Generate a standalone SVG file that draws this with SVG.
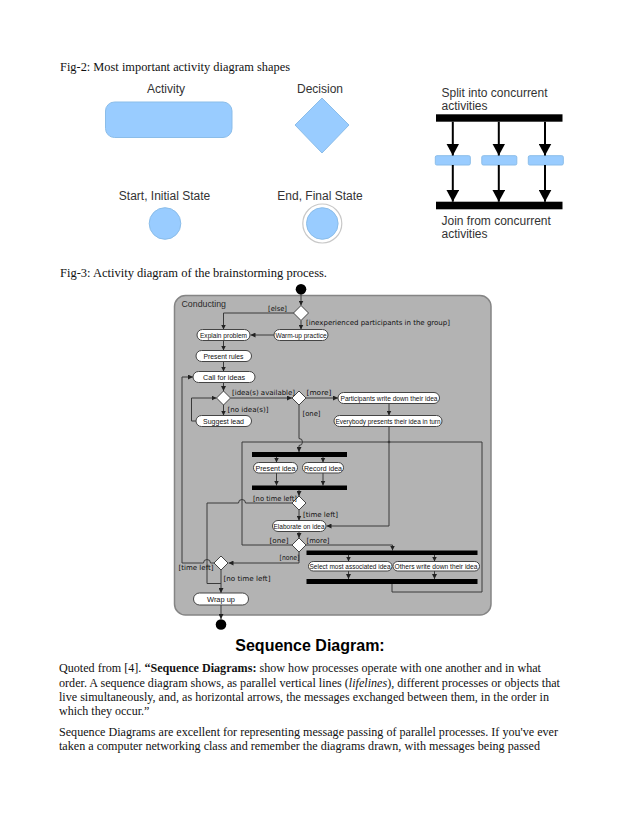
<svg xmlns="http://www.w3.org/2000/svg" width="638" height="826" viewBox="0 0 638 826">
<style>
.cap{font-family:"Liberation Serif",serif;font-size:12px;fill:#111}
.lbl{font-family:"Liberation Sans",Arial,sans-serif;font-size:12px;fill:#333}
.blue{fill:#99ccff;stroke:#8bbde9;stroke-width:1}
.big{stroke:#000;stroke-width:2;fill:none}
.bar{fill:#000}
.pill{fill:#fff;stroke:#444;stroke-width:1}
.pt{font-family:"Liberation Sans",Arial,sans-serif;font-size:7.5px;fill:#111;text-anchor:middle}
.g{font-family:"DejaVu Sans","Liberation Sans",sans-serif;font-size:7px;fill:#111}
.ln{stroke:#3a3a3a;stroke-width:1;fill:none}
.dm{fill:#fff;stroke:#444;stroke-width:1}
.para{font-family:"Liberation Serif",serif;font-size:12px;fill:#111}
</style>
<defs>
<marker id="bigA" markerUnits="userSpaceOnUse" markerWidth="12" markerHeight="13" refX="12" refY="6.5" orient="auto"><path d="M0,0 L12,6.5 L0,13 z" fill="#000"/></marker>
<marker id="a" markerUnits="userSpaceOnUse" markerWidth="5" markerHeight="5" refX="5" refY="2.5" orient="auto"><path d="M0,0 L5,2.5 L0,5 z" fill="#222"/></marker>
</defs>

<text class="cap" x="60" y="71" textLength="230" lengthAdjust="spacingAndGlyphs">Fig-2: Most important activity diagram shapes</text>

<g id="activity-shape">
<text class="lbl" x="166" y="93" text-anchor="middle">Activity</text>
<rect class="blue" x="105.5" y="102" width="126.5" height="35.5" rx="9"/>
</g>
<g id="decision-shape">
<text class="lbl" x="320" y="93" text-anchor="middle">Decision</text>
<polygon class="blue" points="322,98 349,125 322,153 295,125"/>
</g>
<g id="start-shape">
<text class="lbl" x="164.5" y="200" text-anchor="middle">Start, Initial State</text>
<circle class="blue" cx="165" cy="223.5" r="15.8"/>
</g>
<g id="end-shape">
<text class="lbl" x="320" y="200" text-anchor="middle">End, Final State</text>
<circle cx="322.3" cy="223.5" r="19.5" fill="#fff" stroke="#c8c8c8" stroke-width="1.2"/>
<circle class="blue" cx="322.3" cy="223.5" r="15.8"/>
</g>
<g id="fork-shape">
<text class="lbl" x="441.5" y="97">Split into concurrent</text>
<text class="lbl" x="441.5" y="109.5">activities</text>
<rect class="bar" x="436" y="114.3" width="126.5" height="7.4"/>
<rect class="blue" x="435.3" y="155.7" width="35" height="9.3" rx="1.5"/>
<rect class="blue" x="481.8" y="155.7" width="35" height="9.3" rx="1.5"/>
<rect class="blue" x="528.3" y="155.7" width="35" height="9.3" rx="1.5"/>
<line class="big" x1="452.8" y1="121.7" x2="452.8" y2="155.5" marker-end="url(#bigA)"/>
<line class="big" x1="498.8" y1="121.7" x2="498.8" y2="155.5" marker-end="url(#bigA)"/>
<line class="big" x1="545" y1="121.7" x2="545" y2="155.5" marker-end="url(#bigA)"/>
<line class="big" x1="452.8" y1="165" x2="452.8" y2="201.7" marker-end="url(#bigA)"/>
<line class="big" x1="498.8" y1="165" x2="498.8" y2="201.7" marker-end="url(#bigA)"/>
<line class="big" x1="545" y1="165" x2="545" y2="201.7" marker-end="url(#bigA)"/>
<rect class="bar" x="436" y="201.7" width="126.5" height="7.6"/>
<text class="lbl" x="441.5" y="224.5">Join from concurrent</text>
<text class="lbl" x="441.5" y="237.5">activities</text>
</g>

<text class="cap" x="60" y="277" textLength="267" lengthAdjust="spacingAndGlyphs">Fig-3: Activity diagram of the brainstorming process.</text>

<g id="conducting">
<rect x="174.5" y="295.5" width="316.5" height="319.5" rx="11" fill="#b3b3b3" stroke="#858585" stroke-width="1.5"/>
<text x="181.5" y="307" font-family="Liberation Sans,Arial,sans-serif" font-size="8.8" fill="#2a2a2a">Conducting</text>
</g>

<g id="connectors">
<line class="ln" x1="301" y1="294" x2="301" y2="305.5" marker-end="url(#a)"/>
<polyline class="ln" points="294,313 223.5,313 223.5,329.5" marker-end="url(#a)"/>
<line class="ln" x1="301" y1="320.5" x2="301" y2="329.5" marker-end="url(#a)"/>
<line class="ln" x1="274" y1="335" x2="250.5" y2="335" marker-end="url(#a)"/>
<line class="ln" x1="223.5" y1="340.5" x2="223.5" y2="350.5" marker-end="url(#a)"/>
<line class="ln" x1="223.5" y1="361.5" x2="223.5" y2="371.5" marker-end="url(#a)"/>
<line class="ln" x1="223.5" y1="382.5" x2="223.5" y2="391" marker-end="url(#a)"/>
<line class="ln" x1="230.5" y1="398" x2="292" y2="398" marker-end="url(#a)"/>
<line class="ln" x1="223.5" y1="405" x2="223.5" y2="415.5" marker-end="url(#a)"/>
<polyline class="ln" points="196,421 191.5,421 191.5,398 216.5,398" marker-end="url(#a)"/>
<line class="ln" x1="306" y1="398" x2="338" y2="398" marker-end="url(#a)"/>
<line class="ln" x1="389" y1="403.5" x2="389" y2="415.5" marker-end="url(#a)"/>
<path class="ln" d="M299,405 L299,438.5 A3.5,3.5 0 0 1 299,445.5 L299,452" marker-end="url(#a)"/>
<polyline class="ln" points="389,426.5 389,526 326.5,526" marker-end="url(#a)"/>
<line class="ln" x1="276.5" y1="457" x2="276.5" y2="462.5" marker-end="url(#a)"/>
<line class="ln" x1="323" y1="457" x2="323" y2="462.5" marker-end="url(#a)"/>
<line class="ln" x1="276.5" y1="473" x2="276.5" y2="485.5" marker-end="url(#a)"/>
<line class="ln" x1="323" y1="473" x2="323" y2="485.5" marker-end="url(#a)"/>
<line class="ln" x1="299" y1="490" x2="299" y2="496" marker-end="url(#a)"/>
<path class="ln" d="M292,503 L245.5,503 A3.5,3.5 0 0 0 238.5,503 L207,503 L207,583.5 L221,583.5"/>
<line class="ln" x1="299" y1="510" x2="299" y2="520.5" marker-end="url(#a)"/>
<line class="ln" x1="299" y1="531.5" x2="299" y2="538" marker-end="url(#a)"/>
<polyline class="ln" points="292,545 242,545 242,442 482,442 482,592 392,592 392,584"/>
<circle cx="389" cy="442" r="1.3" fill="#3a3a3a"/>
<polyline class="ln" points="306,545 392.5,545 392.5,550.5" marker-end="url(#a)"/>
<polyline class="ln" points="299,552 299,563 228.5,563" marker-end="url(#a)"/>
<line class="ln" x1="348.5" y1="555" x2="348.5" y2="561.5" marker-end="url(#a)"/>
<line class="ln" x1="434.5" y1="555" x2="434.5" y2="561.5" marker-end="url(#a)"/>
<line class="ln" x1="348.5" y1="571" x2="348.5" y2="579" marker-end="url(#a)"/>
<line class="ln" x1="434.5" y1="571" x2="434.5" y2="579" marker-end="url(#a)"/>
<path class="ln" d="M214,563 L210.5,563 A3.5,3.5 0 0 0 203.5,563 L182,563 L182,377 L193,377" marker-end="url(#a)"/>
<line class="ln" x1="221" y1="570" x2="221" y2="593" marker-end="url(#a)"/>
<line class="ln" x1="221" y1="605" x2="221" y2="619" marker-end="url(#a)"/>
</g>

<g id="start"><circle cx="301" cy="289.3" r="5.3" fill="#000"/></g>
<g id="d1"><polygon class="dm" points="301,305.5 308.5,313 301,320.5 293.5,313"/></g>
<g id="explain"><rect class="pill" x="197" y="329.5" width="53" height="11" rx="5.5"/><text class="pt" x="223.5" y="337.7" textLength="47" lengthAdjust="spacingAndGlyphs">Explain problem</text></g>
<g id="warmup"><rect class="pill" x="274" y="329.5" width="54" height="11" rx="5.5"/><text class="pt" x="301" y="337.7" textLength="51" lengthAdjust="spacingAndGlyphs">Warm-up practice</text></g>
<g id="rules"><rect class="pill" x="196" y="350.5" width="55.5" height="11" rx="5.5"/><text class="pt" x="223.5" y="358.7" textLength="40" lengthAdjust="spacingAndGlyphs">Present rules</text></g>
<g id="call"><rect class="pill" x="193" y="371.5" width="62" height="11" rx="5.5"/><text class="pt" x="224" y="379.7" textLength="42" lengthAdjust="spacingAndGlyphs">Call for ideas</text></g>
<g id="d2"><polygon class="dm" points="223.5,391 230.5,398 223.5,405 216.5,398"/></g>
<g id="suggest"><rect class="pill" x="196" y="415.5" width="55.5" height="11" rx="5.5"/><text class="pt" x="223.5" y="423.7" textLength="41" lengthAdjust="spacingAndGlyphs">Suggest lead</text></g>
<g id="d3"><polygon class="dm" points="299,391 306,398 299,405 292,398"/></g>
<g id="participants"><rect class="pill" x="338" y="392.5" width="101.5" height="11" rx="5.5"/><text class="pt" x="389" y="400.7" textLength="97" lengthAdjust="spacingAndGlyphs">Participants write down their idea</text></g>
<g id="everybody"><rect class="pill" x="334" y="415.5" width="108" height="11" rx="5.5"/><text class="pt" x="388" y="423.7" textLength="105" lengthAdjust="spacingAndGlyphs">Everybody presents their idea in turn</text></g>
<g id="fork1"><rect class="bar" x="252" y="452" width="95" height="5"/></g>
<g id="present"><rect class="pill" x="253.5" y="462.5" width="44" height="10.5" rx="5.2"/><text class="pt" x="275.5" y="470.5" textLength="40" lengthAdjust="spacingAndGlyphs">Present idea</text></g>
<g id="record"><rect class="pill" x="302.5" y="462.5" width="41" height="10.5" rx="5.2"/><text class="pt" x="323" y="470.5" textLength="38" lengthAdjust="spacingAndGlyphs">Record idea</text></g>
<g id="join1"><rect class="bar" x="252" y="485.5" width="95" height="4.5"/></g>
<g id="d4"><polygon class="dm" points="299,496 306,503 299,510 292,503"/></g>
<g id="elaborate"><rect class="pill" x="272.5" y="520.5" width="53.5" height="11" rx="5.5"/><text class="pt" x="299" y="528.7" textLength="51" lengthAdjust="spacingAndGlyphs">Elaborate on idea</text></g>
<g id="d6"><polygon class="dm" points="299,538 306,545 299,552 292,545"/></g>
<g id="fork2"><rect class="bar" x="306.5" y="550.5" width="171" height="4.5"/></g>
<g id="select"><rect class="pill" x="308.5" y="561.5" width="83.5" height="9.5" rx="4.7"/><text class="pt" x="350" y="569" textLength="81" lengthAdjust="spacingAndGlyphs">Select most associated idea</text></g>
<g id="others"><rect class="pill" x="393" y="561.5" width="86.5" height="9.5" rx="4.7"/><text class="pt" x="436" y="569" textLength="83" lengthAdjust="spacingAndGlyphs">Others write down their idea</text></g>
<g id="join2"><rect class="bar" x="306.5" y="579" width="171" height="5"/></g>
<g id="d5"><polygon class="dm" points="221,556 228,563 221,570 214,563"/></g>
<g id="wrapup"><rect class="pill" x="193.5" y="593" width="55" height="12" rx="6"/><text class="pt" x="221" y="601.7" textLength="28" lengthAdjust="spacingAndGlyphs">Wrap up</text></g>
<g id="end"><circle cx="221" cy="624.5" r="5.3" fill="#000"/></g>

<g id="guards">
<text class="g" x="268" y="311" textLength="19" lengthAdjust="spacingAndGlyphs">[else]</text>
<text class="g" x="306" y="325" textLength="144" lengthAdjust="spacingAndGlyphs">[inexperienced participants in the group]</text>
<text class="g" x="232" y="395" textLength="63" lengthAdjust="spacingAndGlyphs">[idea(s) available]</text>
<text class="g" x="227.5" y="411.5" textLength="41" lengthAdjust="spacingAndGlyphs">[no idea(s)]</text>
<text class="g" x="306.5" y="395" textLength="25" lengthAdjust="spacingAndGlyphs">[more]</text>
<text class="g" x="302.5" y="416" textLength="18" lengthAdjust="spacingAndGlyphs">[one]</text>
<text class="g" x="253" y="501" textLength="44" lengthAdjust="spacingAndGlyphs">[no time left]</text>
<text class="g" x="303" y="516.5" textLength="35" lengthAdjust="spacingAndGlyphs">[time left]</text>
<text class="g" x="269.5" y="542.5" textLength="19" lengthAdjust="spacingAndGlyphs">[one]</text>
<text class="g" x="306.5" y="542.5" textLength="23" lengthAdjust="spacingAndGlyphs">[more]</text>
<text class="g" x="279.5" y="559.5" textLength="20" lengthAdjust="spacingAndGlyphs">[none]</text>
<text class="g" x="178.5" y="569.5" textLength="35" lengthAdjust="spacingAndGlyphs">[time left]</text>
<text class="g" x="223.5" y="581" textLength="47" lengthAdjust="spacingAndGlyphs">[no time left]</text>
</g>

<text x="310" y="651" text-anchor="middle" font-family="Liberation Sans,Arial,sans-serif" font-size="16" font-weight="bold" fill="#000">Sequence Diagram:</text>

<g id="paragraphs">
<text class="para" x="59" y="672" textLength="482" lengthAdjust="spacingAndGlyphs">Quoted from [4]. <tspan font-weight="bold">“Sequence Diagrams:</tspan> show how processes operate with one another and in what</text>
<text class="para" x="59" y="686.5" textLength="501" lengthAdjust="spacingAndGlyphs">order. A sequence diagram shows, as parallel vertical lines (<tspan font-style="italic">lifelines</tspan>), different processes or objects that</text>
<text class="para" x="59" y="701" textLength="490" lengthAdjust="spacingAndGlyphs">live simultaneously, and, as horizontal arrows, the messages exchanged between them, in the order in</text>
<text class="para" x="59" y="715">which they occur.”</text>
<text class="para" x="59" y="735.5" textLength="499" lengthAdjust="spacingAndGlyphs">Sequence Diagrams are excellent for representing message passing of parallel processes. If you've ever</text>
<text class="para" x="59" y="750" textLength="481" lengthAdjust="spacingAndGlyphs">taken a computer networking class and remember the diagrams drawn, with messages being passed</text>
</g>
</svg>
